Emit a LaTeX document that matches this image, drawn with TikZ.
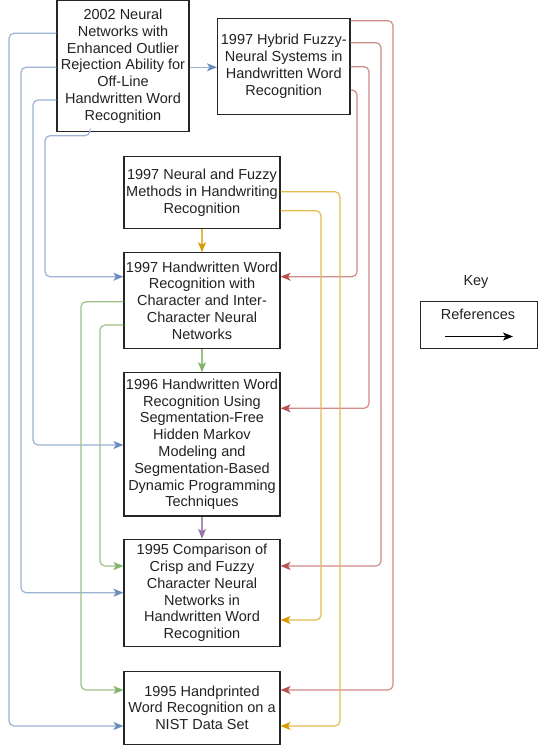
\documentclass[tikz,border=0pt]{standalone}
\usepackage{fontspec}
\setmainfont{Liberation Sans}
\usetikzlibrary{arrows.meta}
\definecolor{cblue}{HTML}{6C8EBF}
\definecolor{cred}{HTML}{B85450}
\definecolor{cyel}{HTML}{D79B00}
\definecolor{cgreen}{HTML}{82B366}
\definecolor{cpurp}{HTML}{9673A6}
\definecolor{txt}{HTML}{222222}
\tikzset{
  paper/.style={draw=black!85, line width=1.1pt, fill=white, align=center, inner sep=2pt,
    font=\fontsize{14.5pt}{16.8pt}\selectfont, text=txt},
  tip/.style={-{Stealth[length=10pt,width=8pt,inset=2.5pt,color=#1]}},
  edge/.style={line width=1.2pt, rounded corners=5pt},
  bl/.style={edge, draw=cblue!68!white, tip=cblue},
  rd/.style={edge, draw=cred!68!white, tip=cred},
  yl/.style={edge, draw=cyel!68!white, tip=cyel},
  gr/.style={edge, draw=cgreen!80!white, tip=cgreen},
  pu/.style={edge, draw=cpurp!80!white, tip=cpurp},
}
\begin{document}
\begin{tikzpicture}[x=1pt, y=-1pt]
\useasboundingbox (0,0) rectangle (538,747);

\node[paper, minimum width=132pt, minimum height=131pt] (A) at (123,66.2)
  {2002 Neural\\Networks with\\Enhanced Outlier\\Rejection Ability for\\Off-Line\\Handwritten Word\\Recognition};
\node[paper, minimum width=132.5pt, minimum height=96pt] (B) at (283.75,66.3)
  {1997 Hybrid Fuzzy-\\Neural Systems in\\Handwritten Word\\Recognition};
\node[paper, minimum width=156pt, minimum height=71.6pt] (C) at (202,192.5)
  {1997 Neural and Fuzzy\\Methods in Handwriting\\Recognition};
\node[paper, minimum width=156pt, minimum height=95.6pt] (D) at (202,300.5)
  {1997 Handwritten Word\\Recognition with\\Character and Inter-\\Character Neural\\Networks};
\node[paper, minimum width=156pt, minimum height=143.3pt] (E) at (202,444.35)
  {1996 Handwritten Word\\Recognition Using\\Segmentation-Free\\Hidden Markov\\Modeling and\\Segmentation-Based\\Dynamic Programming\\Techniques};
\node[paper, minimum width=156pt, minimum height=107.4pt] (F) at (202,593)
  {1995 Comparison of\\Crisp and Fuzzy\\Character Neural\\Networks in\\Handwritten Word\\Recognition};
\node[paper, minimum width=156pt, minimum height=73pt] (G) at (202,707.8)
  {1995 Handprinted\\Word Recognition on a\\NIST Data Set};

% blue (from A)
\draw[bl] (A.west|-0,33.3) -- (9,33.3) -- (9,726) -- (G.west|-0,726);
\draw[bl] (A.west|-0,67.3) -- (21,67.3) -- (21,592.7) -- (F.west|-0,592.7);
\draw[bl] (A.west|-0,100) -- (33,100) -- (33,445) -- (E.west|-0,445);
\draw[bl] (A.south-|90,0) -- (90,135.7) -- (45,135.7) -- (45,276.7) -- (D.west|-0,276.7);
\draw[bl] (A.east|-0,67.3) -- (B.west|-0,67.3);

% red (from B)
\draw[rd] (B.east|-0,20.7) -- (393,20.7) -- (393,690) -- (G.east|-0,690);
\draw[rd] (B.east|-0,42.7) -- (381,42.7) -- (381,566) -- (F.east|-0,566);
\draw[rd] (B.east|-0,66.7) -- (369,66.7) -- (369,408.3) -- (E.east|-0,408.3);
\draw[rd] (B.east|-0,90) -- (357,90) -- (357,276.7) -- (D.east|-0,276.7);

% yellow (from C)
\draw[yl] (C.east|-0,191.7) -- (340,191.7) -- (340,726) -- (G.east|-0,726);
\draw[yl] (C.east|-0,210.7) -- (321,210.7) -- (321,620) -- (F.east|-0,620);
\draw[yl] (C.south) -- (D.north);

% green (from D)
\draw[gr] (D.west|-0,301.7) -- (81,301.7) -- (81,690) -- (G.west|-0,690);
\draw[gr] (D.west|-0,325) -- (100,325) -- (100,566) -- (F.west|-0,566);
\draw[gr] (D.south) -- (E.north);

% purple (from E)
\draw[pu] (E.south) -- (F.north);

% key
\node[font=\fontsize{14.5pt}{16.8pt}\selectfont, text=txt] (keyt) at (476,282) {Key};
\node[draw=black!85, line width=1.1pt, minimum width=117pt, minimum height=47pt] (keybox) at (478.8,324.6) {};
\node[font=\fontsize{14.5pt}{16.8pt}\selectfont, text=txt] (keyref) at (478,314) {References};
\coordinate (ka) at (445,336.5);
\coordinate (kb) at (513,336.5);
\draw[line width=1.2pt, -{Stealth[length=10pt,width=8pt,inset=2.5pt]}] (ka) -- (kb);
\end{tikzpicture}
\end{document}
